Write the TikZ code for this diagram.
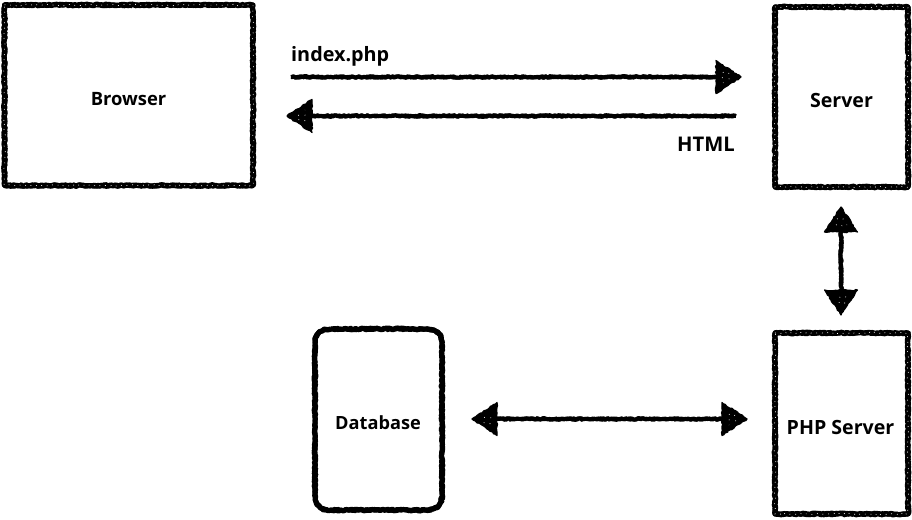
\documentclass[tikz,border=0pt]{standalone}
\usepackage{fontspec}
\setmainfont{Open Sans}
\usetikzlibrary{decorations.pathmorphing}
\pgfmathsetseed{4242}
\tikzset{
  x=1pt,y=-1pt,
  fuzz/.style={decorate,decoration={random steps,segment length=1.6pt,amplitude=0.9pt}},
  rough/.style={draw=black,line width=#1,fuzz,line cap=butt,line join=round},
  rough/.default=5pt,
  speck/.style={draw=white,line width=0.6pt,fuzz,dash pattern=on 0.9pt off 5pt},
  textlabel/.style={font=\bfseries\fontsize{#1}{#1}\selectfont,text=black,inner sep=0pt},
  roughtip/.style={fill=black,draw=black,line width=1.2pt,line join=round,decorate,decoration={random steps,segment length=2pt,amplitude=0.7pt}}
}
\newcommand{\roughbox}[4]{%
  \foreach \w in {1,2}{\draw[rough] (#1,#2) -- (#3,#2) -- (#3,#4) -- (#1,#4) -- cycle;}%
  \draw[speck] (#1,#2) -- (#3,#2) -- (#3,#4) -- (#1,#4) -- cycle;
}
\newcommand{\roughshaft}[2]{%
  \foreach \w in {1,2}{\draw[rough=3.9pt] (#1) -- (#2);}%
}
\newcommand{\arrowtip}[2]{%
  \begin{scope}[shift={(#1)},rotate=#2]
    \path[roughtip] (0,0) -- (-25,-16.5) -- (-25,16.5) -- cycle;
    \draw[speck] (-18,-5) -- (-18,6);
    \draw[speck] (-12,-4) -- (-12,4);
  \end{scope}%
}
\begin{document}
\begin{tikzpicture}
\useasboundingbox (0,0) rectangle (912,519);
\fill[white] (0,0) rectangle (912,519);

\roughbox{4.5}{5}{253}{185.5}
\roughbox{775}{7}{908}{187}
\roughbox{775}{333}{908}{514}
% rounded Database box, corners written as curves
\foreach \w in {1,2}{
  \draw[rough] (331,329) -- (426,329) .. controls (437,329) and (442,334) .. (442,345)
    -- (442,494) .. controls (442,505) and (437,510) .. (426,510)
    -- (331,510) .. controls (320,510) and (315,505) .. (315,494)
    -- (315,345) .. controls (315,334) and (320,329) .. (331,329) -- cycle;
}

\node[textlabel=18.4] (browser) at (128.5,99) {Browser};
\node[textlabel=19.6] (server) at (841.5,100.5) {Server};
\node[textlabel=19.6] (php) at (840.5,427.5) {PHP Server};
\node[textlabel=18.2] (database) at (378,422.5) {Database};

\coordinate (a1) at (291,77);
\coordinate (a2) at (741,77);
\coordinate (a2s) at (718,77);
\coordinate (b1) at (736,116);
\coordinate (b2) at (287,116);
\coordinate (b2s) at (310,116);
\coordinate (c1) at (841,207);
\coordinate (c1s) at (841,230);
\coordinate (c2) at (841,315);
\coordinate (c2s) at (841,292);
\coordinate (d1) at (472,419);
\coordinate (d1s) at (495,419);
\coordinate (d2) at (747,419);
\coordinate (d2s) at (724,419);

\roughshaft{a1}{a2s}
\arrowtip{a2}{0}
\roughshaft{b1}{b2s}
\arrowtip{b2}{180}
\roughshaft{c1s}{c2s}
\arrowtip{c1}{90}
\arrowtip{c2}{-90}
\roughshaft{d1s}{d2s}
\arrowtip{d1}{180}
\arrowtip{d2}{0}

\node[textlabel=19.8,anchor=base west] (idx) at (291,61) {index.php};
\node[textlabel=20.2,anchor=base east] (html) at (735,151) {HTML};
\end{tikzpicture}
\end{document}
